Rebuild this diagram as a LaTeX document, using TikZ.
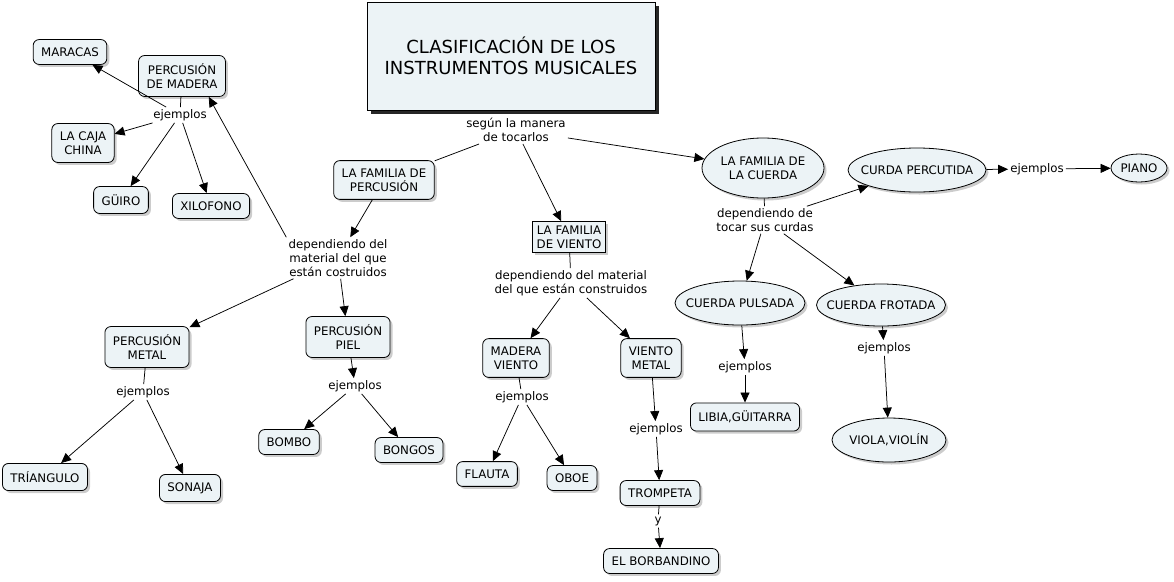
\documentclass[tikz,border=0pt]{standalone}
\usepackage{fontspec}
\setmainfont{DejaVu Sans}
\usetikzlibrary{shapes.geometric,shadows,arrows.meta}
\definecolor{cmapfill}{RGB}{236,243,246}

\begin{document}
\begin{tikzpicture}[x=1pt, y=-1pt,
    font=\fontsize{11.8}{14}\selectfont,
    concept/.style={draw, rounded corners=6pt, fill=cmapfill, align=center, inner xsep=8pt, inner ysep=8pt, line width=0.8pt,
        drop shadow={shadow xshift=2.5pt, shadow yshift=-2.5pt, opacity=0.4}},
    oval/.style={ellipse, draw, fill=cmapfill, align=center, inner xsep=-12pt, inner ysep=0pt, line width=0.8pt,
        drop shadow={shadow xshift=2.5pt, shadow yshift=-2.5pt, opacity=0.4}},
    phrase/.style={align=center, inner sep=2pt},
    link/.style={line width=0.75pt},
    arr/.style={link, -{Triangle[length=10pt, width=9pt]}}]
    \useasboundingbox (0,0) rectangle (1174,581);

    \node[draw, fill=cmapfill, line width=0.8pt, align=center, minimum width=288pt, minimum height=108pt,
        font=\fontsize{18}{21}\selectfont,
        drop shadow={shadow xshift=4pt, shadow yshift=-4pt, fill=black!85, opacity=1}] (title) at (511,56)
        {CLASIFICACIÓN DE LOS\\INSTRUMENTOS MUSICALES};
    \node[phrase] (segun) at (516,130) {según la manera\\de tocarlos};

    \node[concept] (fampercusion) at (384,180) {LA FAMILIA DE\\PERCUSIÓN};
    \node[draw, fill=cmapfill, align=center, inner sep=4pt, line width=0.8pt,
        drop shadow={shadow xshift=2.5pt, shadow yshift=-2.5pt, opacity=0.4}] (famviento) at (569,237) {LA FAMILIA\\DE VIENTO};
    \node[oval, minimum width=122pt, minimum height=60pt] (famcuerda) at (763,168) {LA FAMILIA DE\\LA CUERDA};

    \node[phrase] (dep1) at (338,258) {dependiendo del\\material del que\\están costruidos};
    \node[phrase] (dep2) at (571,283) {dependiendo del material\\del que están construidos};
    \node[phrase] (dep3) at (765,220) {dependiendo de\\tocar sus curdas};

    \node[concept] (percmadera) at (182,76) {PERCUSIÓN\\DE MADERA};
    \node[phrase] (ej1) at (180,115) {ejemplos};
    \node[concept] (maracas) at (70,52) {MARACAS};
    \node[concept] (lacaja) at (83,143) {LA CAJA\\CHINA};
    \node[concept] (guiro) at (121,200) {GÜIRO};
    \node[concept] (xilofono) at (211,206) {XILOFONO};

    \node[concept] (percmetal) at (147,347) {PERCUSIÓN\\METAL};
    \node[phrase] (ej2) at (143,392) {ejemplos};
    \node[concept] (triangulo) at (45,477) {TRÍANGULO};
    \node[concept] (sonaja) at (190,488) {SONAJA};

    \node[concept] (percpiel) at (348,337) {PERCUSIÓN\\PIEL};
    \node[phrase] (ej3) at (355,386) {ejemplos};
    \node[concept] (bombo) at (289,442) {BOMBO};
    \node[concept] (bongos) at (409,450) {BONGOS};

    \node[concept] (maderaviento) at (516,358) {MADERA\\VIENTO};
    \node[phrase] (ej4) at (522,397) {ejemplos};
    \node[concept] (flauta) at (487,474) {FLAUTA};
    \node[concept] (oboe) at (572,478) {OBOE};

    \node[concept] (vientometal) at (651,358) {VIENTO\\METAL};
    \node[phrase] (ej5) at (656,429) {ejemplos};
    \node[concept] (trompeta) at (660,493) {TROMPETA};
    \node[phrase] (ylink) at (658,521) {y};
    \node[concept] (borbandino) at (661,561) {EL BORBANDINO};

    \node[oval, minimum width=138pt, minimum height=44pt] (curdaperc) at (917,170) {CURDA PERCUTIDA};
    \node[phrase] (ej6) at (1037,169) {ejemplos};
    \node[oval, minimum width=56pt, minimum height=28pt] (piano) at (1139,168) {PIANO};

    \node[oval, minimum width=130pt, minimum height=44pt] (pulsada) at (740,303) {CUERDA PULSADA};
    \node[phrase] (ej7) at (745,367) {ejemplos};
    \node[concept] (libia) at (745,417) {LIBIA,GÜITARRA};

    \node[oval, minimum width=129pt, minimum height=42pt] (frotada) at (881,305) {CUERDA FROTADA};
    \node[phrase] (ej8) at (884,348) {ejemplos};
    \node[oval, minimum width=114pt, minimum height=44pt] (viola) at (889,440) {VIOLA,VIOLÍN};

    \draw[link] (segun) -- (fampercusion);
    \draw[arr] (segun) -- (famviento);
    \draw[arr] (segun) -- (famcuerda);

    \draw[arr] (fampercusion) -- (dep1);
    \draw[arr] (dep1.north west) -- (percmadera.-38);
    \draw[arr] (dep1) -- (percmetal);
    \draw[arr] (dep1) -- (percpiel);

    \draw[link] (percmadera) -- (ej1);
    \draw[arr] (ej1) -- (maracas);
    \draw[arr] (ej1) -- (lacaja);
    \draw[arr] (ej1) -- (guiro);
    \draw[arr] (ej1) -- (xilofono);

    \draw[link] (percmetal) -- (ej2);
    \draw[arr] (ej2) -- (triangulo);
    \draw[arr] (ej2) -- (sonaja);

    \draw[arr] (percpiel) -- (ej3);
    \draw[arr] (ej3) -- (bombo);
    \draw[arr] (ej3) -- (bongos);

    \draw[link] (famviento) -- (dep2);
    \draw[arr] (dep2) -- (maderaviento);
    \draw[arr] (dep2) -- (vientometal);
    \draw[link] (maderaviento) -- (ej4);
    \draw[arr] (ej4) -- (flauta);
    \draw[arr] (ej4) -- (oboe);
    \draw[arr] (vientometal) -- (ej5);
    \draw[arr] (ej5) -- (trompeta);
    \draw[link] (trompeta) -- (ylink);
    \draw[arr] (ylink) -- (borbandino);

    \draw[link] (famcuerda) -- (dep3);
    \draw[arr] (dep3) -- (curdaperc);
    \draw[arr] (dep3) -- (pulsada);
    \draw[arr] (dep3) -- (frotada);
    \draw[arr] (curdaperc) -- (ej6);
    \draw[arr] (ej6) -- (piano);
    \draw[arr] (pulsada) -- (ej7);
    \draw[arr] (ej7) -- (libia);
    \draw[arr] (frotada) -- (ej8);
    \draw[arr] (ej8) -- (viola);
\end{tikzpicture}
\end{document}
